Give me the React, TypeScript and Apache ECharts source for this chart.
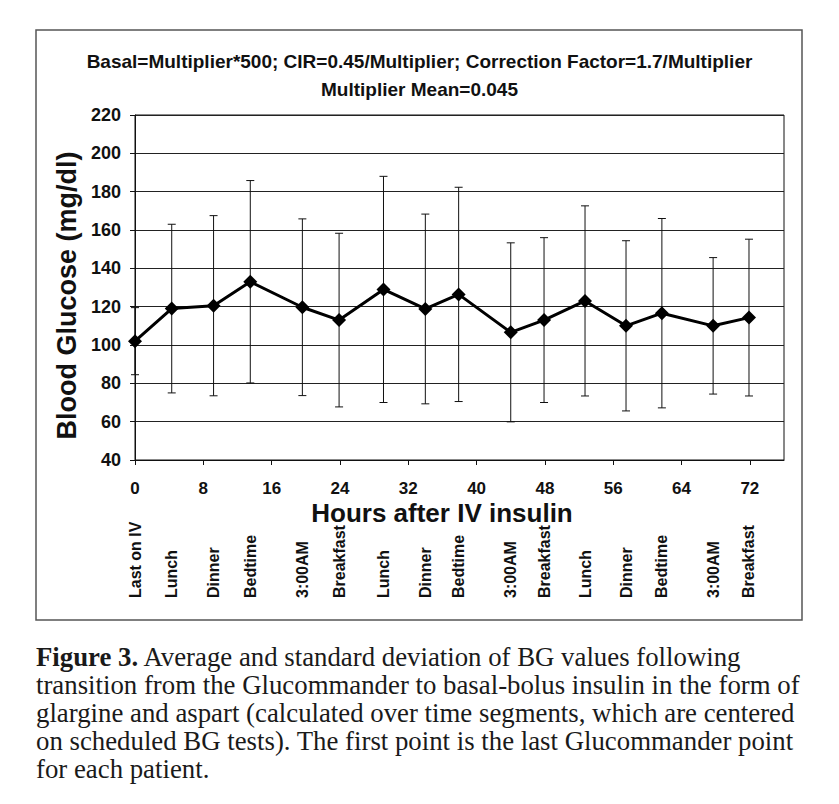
import React, { useEffect, useRef } from "react";
import * as echarts from "echarts";

// ---- data ----
const hours = [0, 4.3, 9.2, 13.5, 19.6, 23.9, 29.1, 34.0, 37.9, 44.0, 47.9, 52.7, 57.5, 61.7, 67.7, 71.9];
const meanBG = [102, 119, 120.5, 133, 119.7, 113, 129, 118.8, 126.4, 106.6, 113, 123, 110, 116.6, 110, 114.3];
const sdBG = [17.5, 44, 47, 52.8, 46.1, 45.3, 59, 49.5, 55.9, 46.7, 43, 49.6, 44.4, 49.4, 35.6, 40.9];
const testNames = [
  "Last on IV", "Lunch", "Dinner", "Bedtime", "3:00AM", "Breakfast",
  "Lunch", "Dinner", "Bedtime", "3:00AM", "Breakfast",
  "Lunch", "Dinner", "Bedtime", "3:00AM", "Breakfast",
];
const xTicks = [0, 8, 16, 24, 32, 40, 48, 56, 64, 72];
const titleLines = [
  "Basal=Multiplier*500; CIR=0.45/Multiplier; Correction Factor=1.7/Multiplier",
  "Multiplier Mean=0.045",
];
const xAxisName = "Hours after IV insulin";
const yAxisName = "Blood Glucose (mg/dl)";
const captionLines = [
  "{b|Figure 3.} Average and standard deviation of BG values following",
  "transition from the Glucommander to basal-bolus insulin in the form of",
  "glargine and aspart (calculated over time segments, which are centered",
  "on scheduled BG tests). The first point is the last Glucommander point",
  "for each patient.",
];

const SANS = "'Liberation Sans', Arial, sans-serif";
const SERIF = "'Liberation Serif', 'Times New Roman', serif";

export default function App() {
  const ref = useRef<HTMLDivElement>(null);

  useEffect(() => {
    document.body.style.margin = "0";
    if (!ref.current) return;
    const chart = echarts.init(ref.current, undefined, { renderer: "svg" });

    const errData = hours.map((h, i) => [h, meanBG[i] - sdBG[i], meanBG[i] + sdBG[i]]);
    const lineData = hours.map((h, i) => [h, meanBG[i]]);

    const captionGraphics = captionLines.map((line, i) => ({
      type: "text",
      left: 36,
      top: 643 + i * 28,
      style: {
        text: line,
        fontFamily: SERIF,
        fontSize: 26.8,
        fill: "#1a1a1a",
        rich: {
          b: { fontWeight: "bold", fontFamily: SERIF, fontSize: 26.8, fill: "#1a1a1a" },
        },
      },
    }));

    const option: any = {
      animation: false,
      backgroundColor: "#fff",
      title: {
        text: titleLines.join("\n"),
        left: "center",
        top: 42,
        textStyle: {
          fontFamily: SANS,
          fontSize: 19,
          fontWeight: "bold",
          color: "#111",
          lineHeight: 28,
        },
      },
      grid: {
        left: 135,
        top: 115,
        width: 649,
        height: 345,
        show: true,
        borderColor: "#111",
        borderWidth: 1,
        containLabel: false,
        outerBoundsMode: "none",
      },
      xAxis: [
        {
          type: "value",
          min: 0,
          max: 76,
          interval: 8,
          position: "bottom",
          axisLine: { show: true, onZero: false, lineStyle: { color: "#111", width: 1 } },
          axisTick: { show: true, length: 5, customValues: xTicks, lineStyle: { color: "#111" } },
          axisLabel: {
            customValues: xTicks,
            margin: 20,
            lineHeight: 16,
            fontFamily: SANS,
            fontSize: 17,
            fontWeight: "bold",
            color: "#111",
          },
          splitLine: { show: false },
          name: xAxisName,
          nameLocation: "middle",
          nameGap: 43,
          nameTextStyle: {
            fontFamily: SANS,
            fontSize: 26,
            lineHeight: 20,
            fontWeight: "bold",
            color: "#111",
            padding: [0, 35, 0, 0],
          },
        },
        {
          type: "value",
          min: 0,
          max: 76,
          position: "bottom",
          axisLine: { show: false },
          axisTick: { show: false },
          splitLine: { show: false },
          axisLabel: {
            customValues: hours,
            rotate: 90,
            align: "left",
            verticalAlign: "middle",
            margin: 138,
            fontFamily: SANS,
            fontSize: 16,
            fontWeight: "bold",
            color: "#111",
            formatter: (v: number) => {
              const k = hours.findIndex((h) => Math.abs(h - v) < 1e-6);
              return k >= 0 ? testNames[k] : "";
            },
          },
        },
      ],
      yAxis: {
        type: "value",
        min: 40,
        max: 220,
        interval: 20,
        axisLine: { show: true, onZero: false, lineStyle: { color: "#111", width: 1 } },
        axisTick: { show: true, length: 5, lineStyle: { color: "#111" } },
        axisLabel: {
          margin: 14,
          fontFamily: SANS,
          fontSize: 18,
          fontWeight: "bold",
          color: "#111",
        },
        splitLine: { show: true, lineStyle: { color: "#222", width: 1 } },
        name: yAxisName,
        nameLocation: "middle",
        nameGap: 51,
        nameTextStyle: {
          fontFamily: SANS,
          fontSize: 27,
          fontWeight: "bold",
          color: "#111",
          padding: [0, 16, 0, 0],
        },
      },
      series: [
        {
          type: "custom",
          name: "SD",
          xAxisIndex: 0,
          data: errData,
          encode: { x: 0, y: [1, 2] },
          z: 2,
          renderItem: (params: any, api: any) => {
            const lo = api.coord([api.value(0), api.value(1)]);
            const hi = api.coord([api.value(0), api.value(2)]);
            const w = 4;
            const st = { stroke: "#111", lineWidth: 1 };
            return {
              type: "group",
              children: [
                { type: "line", shape: { x1: lo[0], y1: lo[1], x2: hi[0], y2: hi[1] }, style: st },
                { type: "line", shape: { x1: lo[0] - w, y1: lo[1], x2: lo[0] + w, y2: lo[1] }, style: st },
                { type: "line", shape: { x1: hi[0] - w, y1: hi[1], x2: hi[0] + w, y2: hi[1] }, style: st },
              ],
            };
          },
        },
        {
          type: "line",
          name: "Mean",
          xAxisIndex: 0,
          data: lineData,
          z: 3,
          symbol: "diamond",
          symbolSize: 14,
          lineStyle: { color: "#000", width: 3 },
          itemStyle: { color: "#000" },
        },
      ],
      graphic: [
        {
          type: "rect",
          shape: { x: 36, y: 30, width: 766, height: 590 },
          style: { fill: "none", stroke: "#555", lineWidth: 1.5 },
          silent: true,
        },
        ...captionGraphics,
      ],
    };

    chart.setOption(option);
    return () => chart.dispose();
  }, []);

  return <div ref={ref} style={{ width: 839, height: 804 }} />;
}
